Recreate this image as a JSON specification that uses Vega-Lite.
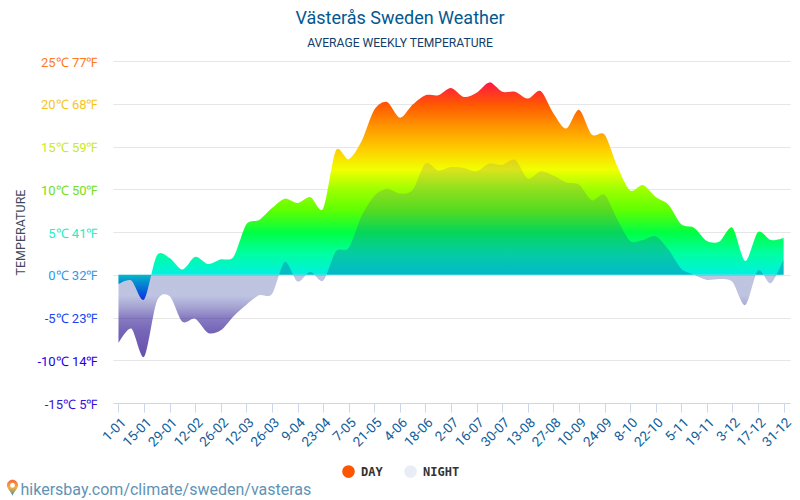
{
  "$schema": "https://vega.github.io/schema/vega-lite/v6.json",
  "width": 677,
  "height": 342,
  "autosize": "none",
  "padding": {"left": 113, "top": 61, "right": 10, "bottom": 97},
  "background": "white",
  "view": {"stroke": null},
  "title": {
    "text": "Västerås Sweden Weather",
    "subtitle": "AVERAGE WEEKLY TEMPERATURE",
    "anchor": "middle",
    "frame": "group",
    "dx": -51.5,
    "offset": 7,
    "font": "Roboto",
    "fontSize": 18,
    "fontWeight": "normal",
    "color": "#04588f",
    "subtitleFont": "Roboto",
    "subtitleFontSize": 12.1,
    "subtitleColor": "#123c69",
    "subtitlePadding": 9
  },
  "datasets": {
    "weather": [
      {"date": "2023-01-01", "day": -1.1, "night": -8},
      {"date": "2023-01-08", "day": -0.66, "night": -6.3},
      {"date": "2023-01-15", "day": -2.9, "night": -9.6},
      {"date": "2023-01-22", "day": 2.25, "night": -3.1},
      {"date": "2023-01-29", "day": 1.95, "night": -2.5},
      {"date": "2023-02-05", "day": 0.6, "night": -5.5},
      {"date": "2023-02-12", "day": 2.1, "night": -5.15},
      {"date": "2023-02-19", "day": 1.25, "night": -6.8},
      {"date": "2023-02-26", "day": 1.8, "night": -6.5},
      {"date": "2023-03-05", "day": 2.1, "night": -4.85},
      {"date": "2023-03-12", "day": 5.9, "night": -3.5},
      {"date": "2023-03-19", "day": 6.4, "night": -2.4},
      {"date": "2023-03-26", "day": 7.8, "night": -2.25},
      {"date": "2023-04-02", "day": 8.9, "night": 1.5},
      {"date": "2023-04-09", "day": 8.4, "night": -0.8},
      {"date": "2023-04-16", "day": 9.1, "night": 0.35},
      {"date": "2023-04-23", "day": 7.75, "night": -0.7},
      {"date": "2023-04-30", "day": 14.55, "night": 2.75},
      {"date": "2023-05-07", "day": 13.5, "night": 3.15},
      {"date": "2023-05-14", "day": 15.6, "night": 6.85},
      {"date": "2023-05-21", "day": 19.3, "night": 9.2},
      {"date": "2023-05-28", "day": 20.2, "night": 10.05},
      {"date": "2023-06-04", "day": 18.35, "night": 9.5},
      {"date": "2023-06-11", "day": 19.9, "night": 9.9},
      {"date": "2023-06-18", "day": 21, "night": 13},
      {"date": "2023-06-25", "day": 21, "night": 12.2},
      {"date": "2023-07-02", "day": 21.85, "night": 12.6},
      {"date": "2023-07-09", "day": 20.8, "night": 12.5},
      {"date": "2023-07-16", "day": 21.3, "night": 12.1},
      {"date": "2023-07-23", "day": 22.5, "night": 13},
      {"date": "2023-07-30", "day": 21.4, "night": 12.85},
      {"date": "2023-08-06", "day": 21.4, "night": 13.45},
      {"date": "2023-08-13", "day": 20.6, "night": 11.25},
      {"date": "2023-08-20", "day": 21.5, "night": 12.1},
      {"date": "2023-08-27", "day": 18.9, "night": 11.6},
      {"date": "2023-09-03", "day": 17.1, "night": 10.8},
      {"date": "2023-09-10", "day": 19.3, "night": 10.55},
      {"date": "2023-09-17", "day": 16.4, "night": 8.7},
      {"date": "2023-09-24", "day": 16.4, "night": 9.35},
      {"date": "2023-10-01", "day": 12.7, "night": 6.45},
      {"date": "2023-10-08", "day": 9.85, "night": 3.95},
      {"date": "2023-10-15", "day": 10.5, "night": 4.05},
      {"date": "2023-10-22", "day": 9.1, "night": 4.5},
      {"date": "2023-10-29", "day": 8.2, "night": 2.95},
      {"date": "2023-11-05", "day": 5.9, "night": 0.7},
      {"date": "2023-11-12", "day": 5.5, "night": 0},
      {"date": "2023-11-19", "day": 3.95, "night": -0.6},
      {"date": "2023-11-26", "day": 3.9, "night": -0.5},
      {"date": "2023-12-03", "day": 5.5, "night": -0.85},
      {"date": "2023-12-10", "day": 1.6, "night": -3.55},
      {"date": "2023-12-17", "day": 5, "night": 0.5},
      {"date": "2023-12-24", "day": 4.05, "night": -1},
      {"date": "2023-12-31", "day": 4.3, "night": 1.8}
    ]
  },
  "encoding": {
    "x": {
      "field": "date",
      "type": "temporal",
      "scale": {"type": "utc", "domain": ["2022-12-29", "2024-01-03T12:00:00Z"], "nice": false},
      "axis": {
        "title": "hikersbay.com/climate/sweden/vasteras",
        "titleFont": "Roboto",
        "titleFontSize": 16,
        "titleFontWeight": "normal",
        "titleColor": "#5f93b5",
        "titleAlign": "left",
        "titleBaseline": "alphabetic",
        "titleX": -93,
        "titleY": 91,
        "values": ["2023-01-01", "2023-01-15", "2023-01-29", "2023-02-12", "2023-02-26", "2023-03-12", "2023-03-26", "2023-04-09", "2023-04-23", "2023-05-07", "2023-05-21", "2023-06-04", "2023-06-18", "2023-07-02", "2023-07-16", "2023-07-30", "2023-08-13", "2023-08-27", "2023-09-10", "2023-09-24", "2023-10-08", "2023-10-22", "2023-11-05", "2023-11-19", "2023-12-03", "2023-12-17", "2023-12-31"],
        "labelExpr": "utcFormat(datum.value, '%-d-%m')",
        "labelAngle": -45,
        "labelFont": "Roboto",
        "labelFontSize": 13.5,
        "labelColor": "#11609a",
        "labelOverlap": false,
        "labelPadding": 3,
        "labelFlush": false,
        "domainColor": "#ccd6eb",
        "tickColor": "#ccd6eb",
        "tickSize": 9,
        "grid": false
      }
    }
  },
  "layer": [
    {
      "data": {"name": "weather"},
      "mark": {
        "type": "area",
        "interpolate": "cardinal",
        "tension": 0.15,
        "color": {
          "gradient": "linear",
          "x1": 0, "y1": 0, "x2": 0, "y2": 1,
          "stops": [
            {"offset": 0, "color": "#ff1744"},
            {"offset": 0.105, "color": "#ff5a00"},
            {"offset": 0.2, "color": "#ff9400"},
            {"offset": 0.297, "color": "#ffc800"},
            {"offset": 0.4, "color": "#f2ff00"},
            {"offset": 0.49, "color": "#a0ff00"},
            {"offset": 0.586, "color": "#60ff00"},
            {"offset": 0.69, "color": "#00ff44"},
            {"offset": 0.785, "color": "#00ffa0"},
            {"offset": 0.883, "color": "#00f0e0"},
            {"offset": 1, "color": "#0030ff"}
          ]
        }
      },
      "encoding": {
        "y": {
          "field": "day",
          "type": "quantitative",
          "scale": {"domain": [-15, 25], "nice": false},
          "axis": {
            "title": "TEMPERATURE",
            "titleFont": "Roboto",
            "titleFontSize": 12.5,
            "titleFontWeight": "normal",
            "titleColor": "#3e4a5b",
            "titleX": -86,
            "titleY": 171,
            "values": [-15, -10, -5, 0, 5, 10, 15, 20, 25],
            "labelExpr": "datum.value + '℃ ' + round(datum.value * 9 / 5 + 32) + '℉'",
            "labelFont": "Roboto",
            "labelFontSize": 13,
            "labelPadding": 16,
            "labelOffset": 1,
            "labelColor": {"expr": "datum.value == 25 ? '#ff7a1a' : datum.value == 20 ? '#f7c518' : datum.value == 15 ? '#c9ea2a' : datum.value == 10 ? '#77dd22' : datum.value == 5 ? '#22eec8' : datum.value == 0 ? '#2b9bea' : datum.value == -5 ? '#1a44ee' : datum.value == -10 ? '#2200ee' : '#3311dd'"},
            "domain": false,
            "ticks": false,
            "grid": true,
            "gridColor": "#e6e6e6"
          }
        },
        "y2": {"datum": 0}
      }
    },
    {
      "data": {"name": "weather"},
      "mark": {
        "type": "area",
        "interpolate": "cardinal",
        "tension": 0.15,
        "color": {
          "gradient": "linear",
          "x1": 0, "y1": 0, "x2": 0, "y2": 1,
          "stops": [
            {"offset": 0, "color": "rgba(30,10,255,0.1)"},
            {"offset": 0.36, "color": "rgba(37,0,205,0.16)"},
            {"offset": 0.58, "color": "rgba(10,30,135,0.26)"},
            {"offset": 0.69, "color": "rgba(30,50,150,0.29)"},
            {"offset": 0.755, "color": "rgba(50,40,150,0.45)"},
            {"offset": 0.8, "color": "rgba(50,30,150,0.58)"},
            {"offset": 0.865, "color": "rgba(55,30,150,0.68)"},
            {"offset": 1, "color": "rgba(60,30,150,0.78)"}
          ]
        }
      },
      "encoding": {
        "y": {"field": "night", "type": "quantitative"},
        "y2": {"datum": 0}
      }
    },
    {
      "data": {"values": [{"series": "DAY"}, {"series": "NIGHT"}]},
      "mark": {"type": "point", "filled": true, "opacity": 0},
      "encoding": {
        "color": {
          "field": "series",
          "type": "nominal",
          "scale": {"domain": ["DAY", "NIGHT"], "range": ["#ff5500", "#e8edf5"]},
          "legend": {
            "title": null,
            "orient": "none",
            "legendX": 228,
            "legendY": 403,
            "direction": "horizontal",
            "columns": 2,
            "columnPadding": 20,
            "symbolType": "circle",
            "symbolSize": 160,
            "symbolOpacity": 1,
            "labelFont": "DejaVu Sans Mono",
            "labelFontSize": 12,
            "labelFontWeight": "bold",
            "labelColor": "#333333",
            "labelOffset": 5
          }
        }
      }
    },
    {
      "data": {"values": [{"date": "2022-11-04", "temp": -24.9}]},
      "mark": {
        "type": "point",
        "filled": true,
        "opacity": 1,
        "size": 256,
        "shape": "M0,1 C-0.25,0.45 -0.7,0.1 -0.7,-0.3 A0.7,0.7 0 1 1 0.7,-0.3 C0.7,0.1 0.25,0.45 0,1 Z M0,-0.6 A0.3,0.3 0 1 0 0,0 A0.3,0.3 0 1 0 0,-0.6 Z",
        "color": {
          "gradient": "linear",
          "x1": 0, "y1": 0, "x2": 0, "y2": 1,
          "stops": [
            {"offset": 0, "color": "#f5653a"},
            {"offset": 0.5, "color": "#f5b041"},
            {"offset": 1, "color": "#3f8fa8"}
          ]
        }
      },
      "encoding": {
        "y": {"field": "temp", "type": "quantitative"}
      }
    }
  ]
}
